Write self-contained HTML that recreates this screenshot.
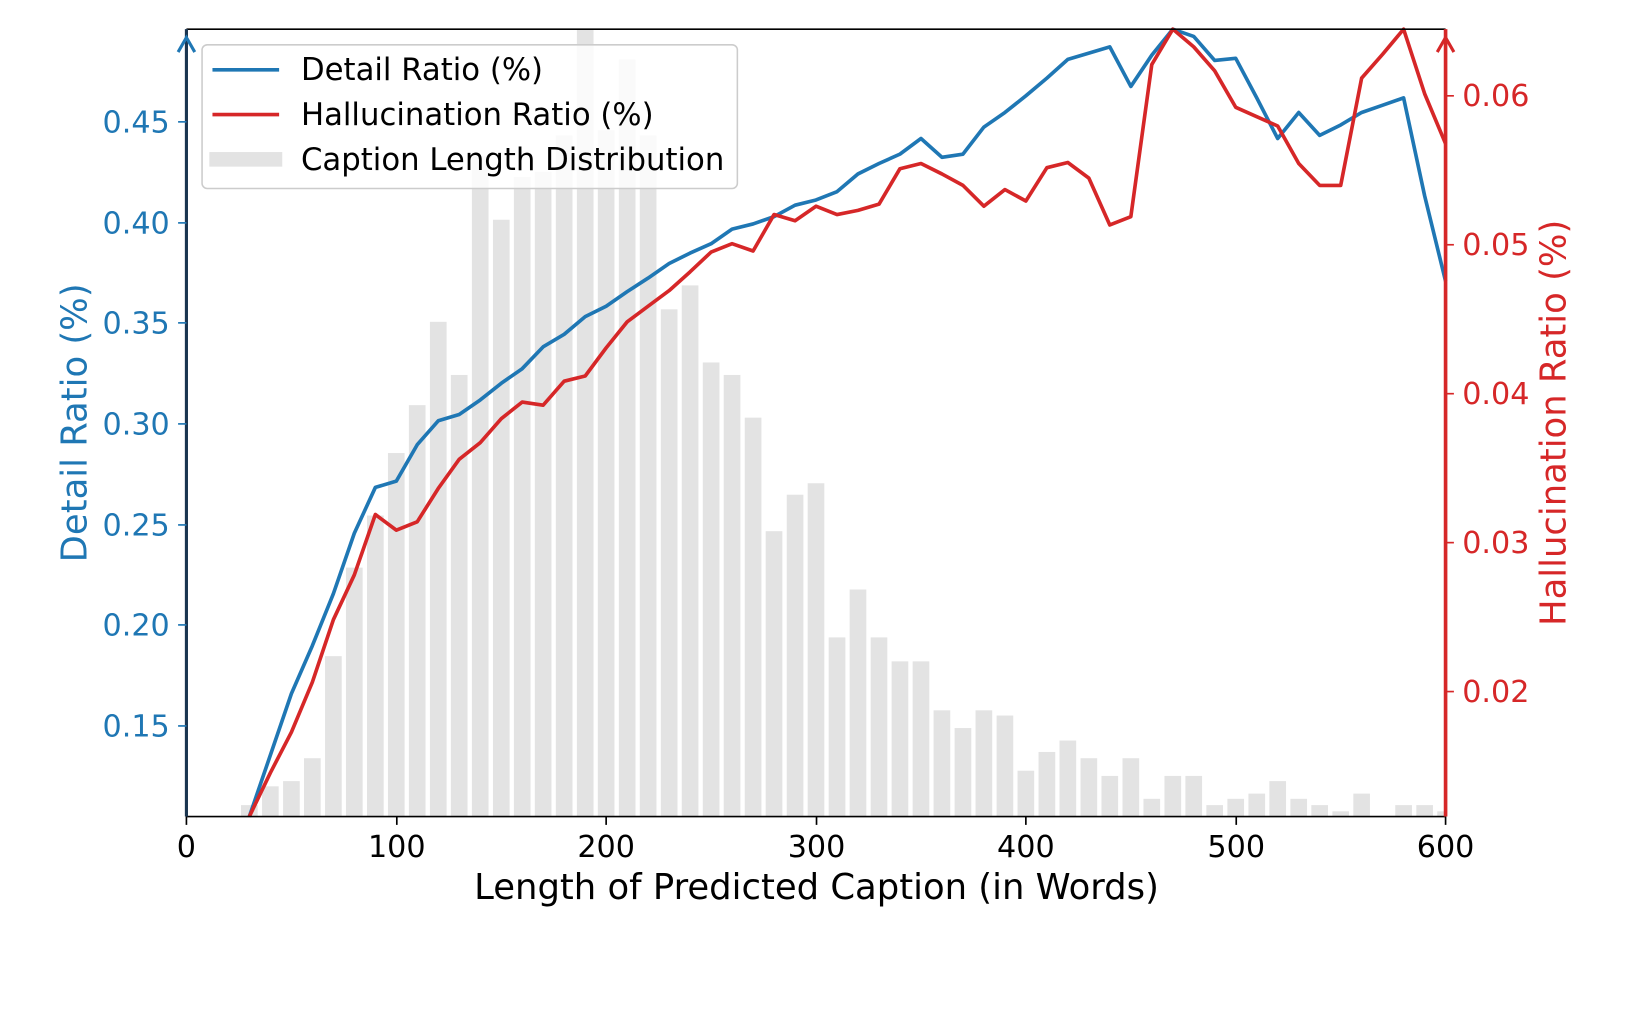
<!DOCTYPE html>
<html><head><meta charset="utf-8"><style>
html,body{margin:0;padding:0;background:#fff;}
svg{display:block;font-family:"DejaVu Sans","Liberation Sans",sans-serif;}
</style></head><body>
<svg id="s" width="1632" height="1016" viewBox="0 0 1567 975.5" preserveAspectRatio="none" xmlns="http://www.w3.org/2000/svg">
<rect width="1567" height="976" fill="#fff"/>
<g id="bars" fill="#e3e3e3"></g>
<polyline id="blue" fill="none" stroke="#1f77b4" stroke-width="3.5" stroke-linejoin="round"/>
<polyline id="red" fill="none" stroke="#d62728" stroke-width="3.5" stroke-linejoin="round"/>
<line x1="179" y1="28" x2="1388" y2="28" stroke="#000" stroke-width="1.6"/>
<line x1="179" y1="784" x2="1388" y2="784" stroke="#000" stroke-width="1.6"/>
<line x1="179" y1="28" x2="179" y2="784" stroke="#1a3550" stroke-width="3"/>
<line x1="1388" y1="28" x2="1388" y2="784" stroke="#d62728" stroke-width="3.5"/>
<polyline points="171,50 179,36 187,50" fill="none" stroke="#1f77b4" stroke-width="3"/>
<polyline points="1380,50 1388,36 1396,50" fill="none" stroke="#d62728" stroke-width="3"/>
<g stroke="#000" stroke-width="1.6">
<line x1="179" y1="784" x2="179" y2="792"/><line x1="381" y1="784" x2="381" y2="792"/>
<line x1="582" y1="784" x2="582" y2="792"/><line x1="784" y1="784" x2="784" y2="792"/>
<line x1="985" y1="784" x2="985" y2="792"/><line x1="1187" y1="784" x2="1187" y2="792"/>
<line x1="1388" y1="784" x2="1388" y2="792"/>
</g>
<g font-size="29" fill="#000" text-anchor="middle">
<text x="179" y="823">0</text><text x="381" y="823">100</text><text x="582" y="823">200</text>
<text x="784" y="823">300</text><text x="985" y="823">400</text><text x="1187" y="823">500</text><text x="1388" y="823">600</text>
</g>
<text x="784" y="863" font-size="34" text-anchor="middle" fill="#000">Length of Predicted Caption (in Words)</text>
<g stroke="#1f77b4" stroke-width="1.6">
<line x1="171" y1="117" x2="179" y2="117"/><line x1="171" y1="214" x2="179" y2="214"/>
<line x1="171" y1="310" x2="179" y2="310"/><line x1="171" y1="407" x2="179" y2="407"/>
<line x1="171" y1="504" x2="179" y2="504"/><line x1="171" y1="600" x2="179" y2="600"/>
<line x1="171" y1="697" x2="179" y2="697"/>
</g>
<g font-size="29" fill="#1f77b4" text-anchor="end">
<text x="163" y="127">0.45</text><text x="163" y="224">0.40</text><text x="163" y="320">0.35</text>
<text x="163" y="417">0.30</text><text x="163" y="514">0.25</text><text x="163" y="610">0.20</text>
<text x="163" y="707">0.15</text>
</g>
<text transform="translate(83,406) rotate(-90)" font-size="34" fill="#1f77b4" text-anchor="middle">Detail Ratio (%)</text>
<g stroke="#d62728" stroke-width="1.6">
<line x1="1388" y1="92" x2="1396" y2="92"/><line x1="1388" y1="235" x2="1396" y2="235"/>
<line x1="1388" y1="378" x2="1396" y2="378"/><line x1="1388" y1="521" x2="1396" y2="521"/>
<line x1="1388" y1="664" x2="1396" y2="664"/>
</g>
<g font-size="29" fill="#d62728" text-anchor="start">
<text x="1404" y="102">0.06</text><text x="1404" y="245">0.05</text><text x="1404" y="388">0.04</text>
<text x="1404" y="531">0.03</text><text x="1404" y="674">0.02</text>
</g>
<text transform="translate(1503,406) rotate(-90)" font-size="34" fill="#d62728" text-anchor="middle">Hallucination Ratio (%)</text>
<rect x="194" y="43" width="514" height="138" rx="5" fill="#fff" fill-opacity="0.8" stroke="#ccc" stroke-width="1.5"/>
<line x1="204" y1="67" x2="268" y2="67" stroke="#1f77b4" stroke-width="3.5"/>
<line x1="204" y1="110" x2="268" y2="110" stroke="#d62728" stroke-width="3.5"/>
<rect x="201" y="146" width="70" height="14" fill="#e3e3e3"/>
<g font-size="29.5" fill="#000">
<text x="289" y="77">Detail Ratio (%)</text>
<text x="289" y="120">Hallucination Ratio (%)</text>
<text x="289" y="163">Caption Length Distribution</text>
</g>
</svg>
<script>
function X(w){return 179+w*2.015;}
var bars=[[30,773],[40,755],[50,750],[60,728],[70,630],[80,545],[90,495],[100,435],[110,389],[120,309],[130,360],[140,150],[150,211],[160,170],[170,165],[180,130],[190,28],[200,125],[210,57],[220,130],[230,297],[240,274],[250,348],[260,360],[270,401],[280,510],[290,475],[300,464],[310,612],[320,566],[330,612],[340,635],[350,635],[360,682],[370,699],[380,682],[390,687],[400,740],[410,722],[420,711],[430,728],[440,745],[450,728],[460,767],[470,745],[480,745],[490,773],[500,767],[510,762],[520,750],[530,767],[540,773],[550,779],[560,762],[580,773],[590,773],[600,779]];
var g=document.getElementById('bars'),h='';
bars.forEach(function(b){var x=X(b[0]);var top=Math.max(b[1],28);var w=(b[0]==600)?8:16;h+='<rect x="'+(x-8).toFixed(1)+'" y="'+top+'" width="'+w+'" height="'+(784-top)+'"/>';});
g.innerHTML=h;
var blue=[30,784,50,666,60,620,70,570,80,512,90,468,100,462,110,427,120,404,130,398,140,384,150,368,160,354,170,333,180,321,190,304,200,294,210,280,220,267,230,253,240,243,250,234,260,220,270,215,280,208,290,197,300,192,310,184,320,167,330,157,340,148,350,133,360,151,370,148,380,122,390,108,400,92,410,75,420,57,430,51,440,45,450,83,460,53,470,28,480,35,490,58,500,56,510,94,520,133,530,108,540,130,550,120,560,108,570,101,580,94,590,188,600,270];
var red=[30,784,40,742,50,703,60,655,70,595,80,552,90,494,100,509,110,501,120,469,130,441,140,425,150,402,160,386,170,389,180,366,190,361,200,334,210,309,220,294,230,279,240,261,250,242,260,234,270,241,280,206,290,212,300,198,310,206,320,202,330,196,340,162,350,157,360,167,370,178,380,198,390,182,400,193,410,161,420,156,430,171,440,216,450,208,460,62,470,28,480,45,490,68,500,103,510,112,520,121,530,157,540,178,550,178,560,75,570,52,580,28,590,90,600,138];
function pts(a){var s=[];for(var i=0;i<a.length;i+=2)s.push(X(a[i]).toFixed(1)+','+a[i+1]);return s.join(' ');}
document.getElementById('blue').setAttribute('points',pts(blue));
document.getElementById('red').setAttribute('points',pts(red));
</script>
</body></html>
